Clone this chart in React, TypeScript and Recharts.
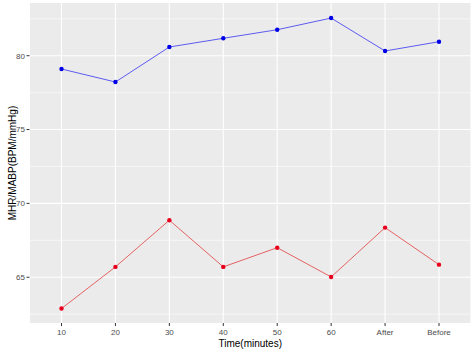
import React from 'react';
import { LineChart, Line, XAxis, YAxis, CartesianGrid } from 'recharts';

const categories = ['10', '20', '30', '40', '50', '60', 'After', 'Before'];
const mhrValues = [79.1, 78.22, 80.59, 81.18, 81.76, 82.55, 80.32, 80.95];
const mabpValues = [62.88, 65.7, 68.86, 65.7, 67.0, 65.02, 68.36, 65.85];
const yTicks = [65, 70, 75, 80];
const yMinor = [62.5, 67.5, 72.5, 77.5, 82.5];

const data = categories.map((c, i) => ({ time: c, mhr: mhrValues[i], mabp: mabpValues[i] }));

const FONT = '"Liberation Sans", Arial, sans-serif';

export default function App() {
  return (
    <div style={{ position: 'absolute', left: 0, top: 0, width: 474, height: 353, background: '#fff' }}>
      <LineChart width={474} height={353} data={data} margin={{ top: 3, right: 3, left: 0, bottom: 0 }}>
        <CartesianGrid
          fill="#EBEBEB"
          stroke="#FFFFFF"
          strokeWidth={0.55}
          vertical={false}
          horizontalValues={yMinor}
        />
        <CartesianGrid stroke="#FFFFFF" strokeWidth={1.1} horizontalValues={yTicks} />
        <XAxis
          dataKey="time"
          type="category"
          scale="point"
          padding={{ left: 32, right: 32 }}
          axisLine={false}
          tickLine={{ stroke: '#333333', strokeWidth: 1 }}
          tickSize={3}
          tickMargin={3}
          height={30}
          tick={{ fill: '#4D4D4D', fontSize: 8, fontFamily: FONT }}
          interval={0}
          label={{
            content: (props: any) => {
              const vb = props.viewBox;
              return (
                <text
                  x={vb.x + vb.width / 2}
                  y={vb.y + 23.5}
                  textAnchor="middle"
                  fontSize={10}
                  fontFamily={FONT}
                  fill="#000000"
                >
                  Time(minutes)
                </text>
              );
            },
          }}
        />
        <YAxis
          type="number"
          domain={[61.9, 83.57]}
          ticks={yTicks}
          allowDataOverflow
          width={29.5}
          axisLine={false}
          tickLine={{ stroke: '#333333', strokeWidth: 1 }}
          tickSize={3}
          tickMargin={1.5}
          tick={{ fill: '#4D4D4D', fontSize: 8, fontFamily: FONT }}
          label={{
            content: (props: any) => {
              const vb = props.viewBox;
              const cx = vb.x + 12;
              const cy = vb.y + vb.height / 2;
              return (
                <text
                  x={cx}
                  y={cy}
                  transform={`rotate(-90, ${cx}, ${cy})`}
                  textAnchor="middle"
                  dominantBaseline="central"
                  fontSize={10}
                  fontFamily={FONT}
                  fill="#000000"
                >
                  MHR/MABP(BPM/mmHg)
                </text>
              );
            },
          }}
        />
        <Line
          dataKey="mhr"
          stroke="#4B4BEF"
          strokeWidth={0.9}
          dot={{ r: 2.2, fill: '#0000E6', stroke: 'none' }}
          activeDot={false}
          isAnimationActive={false}
        />
        <Line
          dataKey="mabp"
          stroke="#E45252"
          strokeWidth={0.9}
          dot={{ r: 2.2, fill: '#E8001C', stroke: 'none' }}
          activeDot={false}
          isAnimationActive={false}
        />
      </LineChart>
    </div>
  );
}
